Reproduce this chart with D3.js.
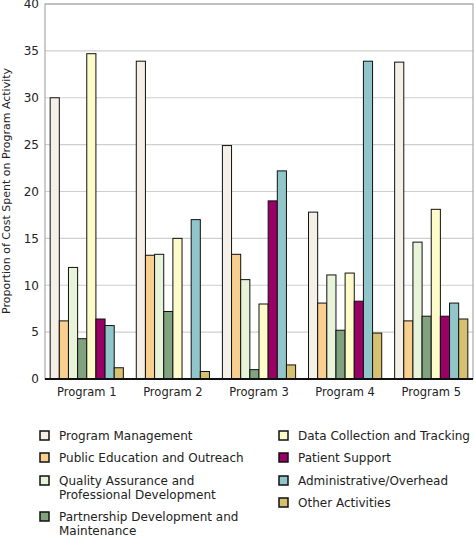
<!DOCTYPE html><html><head><meta charset="utf-8"><script src="https://cdn.jsdelivr.net/npm/d3@7"></script>
<style>body{margin:0;background:#fff}text{font-family:"DejaVu Sans",Verdana,sans-serif}</style></head><body><svg width="474" height="537"></svg><script>
const programs=["Program 1","Program 2","Program 3","Program 4","Program 5"];
const activities=["Program Management","Public Education and Outreach","Quality Assurance and Professional Development","Partnership Development and Maintenance","Data Collection and Tracking","Patient Support","Administrative/Overhead","Other Activities"];
const colors=["#f4efe7","#f9cf90","#e8f4da","#80a27f","#fdfbca","#990066","#90c5c9","#d6c170"];
const values=[
[30,6.2,11.9,4.3,34.7,6.4,5.7,1.2],
[33.9,13.2,13.3,7.2,15,0,17,0.8],
[24.9,13.3,10.6,1,8,19,22.2,1.5],
[17.8,8.1,11.1,5.2,11.3,8.3,33.9,4.9],
[33.8,6.2,14.6,6.7,18.1,6.7,8.1,6.4]];
const yTicks=[0,5,10,15,20,25,30,35,40];
const legendLines=[["Program Management"],["Public Education and Outreach"],["Quality Assurance and","Professional Development"],["Partnership Development and","Maintenance"],["Data Collection and Tracking"],["Patient Support"],["Administrative/Overhead"],["Other Activities"]];
const svg=d3.select("svg");
const L=45,R=473,T=4,B=379;
const y=d3.scaleLinear().domain([0,40]).range([B,T]);
const x0=d3.scaleBand().domain(programs).range([L,R]).paddingInner(0.15).paddingOuter(0.06);
const x1=d3.scaleBand().domain(d3.range(8)).range([0,x0.bandwidth()]);
svg.append("g").selectAll("line").data(yTicks.slice(1)).join("line").attr("x1",L).attr("x2",R).attr("y1",d=>y(d)).attr("y2",d=>y(d)).attr("stroke","#cfcfcf").attr("stroke-width",1.2);
svg.append("rect").attr("x",L).attr("y",T).attr("width",R-L).attr("height",B-T).attr("fill","none").attr("stroke","#999");
const ya=svg.append("g").attr("transform",`translate(${L},0)`).call(d3.axisLeft(y).tickValues(yTicks).tickSize(0).tickPadding(6));
ya.select(".domain").remove();ya.selectAll("text").attr("font-size",12).attr("fill","#222");
const g=svg.append("g").selectAll("g").data(values).join("g").attr("transform",(d,i)=>`translate(${x0(programs[i])},0)`);
g.selectAll("rect").data(d=>d).join("rect").attr("x",(d,j)=>x1(j)).attr("width",x1.bandwidth()).attr("y",d=>y(d)).attr("height",d=>B-y(d)).attr("fill",(d,j)=>colors[j]).attr("stroke","#111").attr("stroke-width",1);
svg.append("line").attr("x1",L).attr("x2",R).attr("y1",B).attr("y2",B).attr("stroke","#111").attr("stroke-width",2);
const xa=svg.append("g").attr("transform",`translate(0,${B})`).call(d3.axisBottom(x0).tickSize(0).tickPadding(9));
xa.select(".domain").remove();xa.selectAll("text").attr("font-size",11.5).attr("fill","#222");
svg.append("text").attr("transform","translate(10,191) rotate(-90)").attr("text-anchor","middle").attr("font-size",11).attr("fill","#222").text("Proportion of Cost Spent on Program Activity");
const rowsY=[[436],[458],[481],[517],[436],[458],[481],[503]];
legendLines.forEach((ls,i)=>{const cx=i<4?40:279,cy=rowsY[i][0];
 svg.append("rect").attr("x",cx).attr("y",cy-5).attr("width",9).attr("height",9).attr("fill",colors[i]).attr("stroke","#111").attr("stroke-width",1.5);
 const t=svg.append("text").attr("x",cx+19).attr("y",cy+4).attr("font-size",12).attr("fill","#222");
 ls.forEach((s,k)=>t.append("tspan").attr("x",cx+19).attr("dy",k?14:0).text(s));});
</script></body></html>
